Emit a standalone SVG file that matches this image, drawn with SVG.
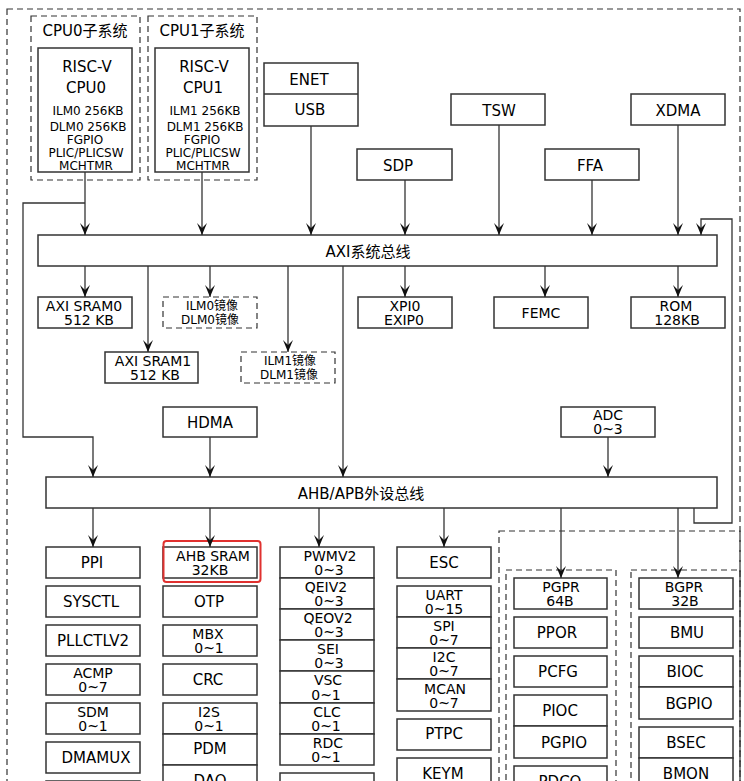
<svg xmlns="http://www.w3.org/2000/svg" width="744" height="781" viewBox="0 0 744 781">
<style>
.b{fill:#fff;stroke:#333;stroke-width:1.5}
.d{fill:none;stroke:#333;stroke-width:1.2;stroke-dasharray:6 4}
.c{fill:none;stroke:#333;stroke-width:1.3}
text{font-family:"DejaVu Sans","Noto Sans CJK SC",sans-serif;fill:#000;text-anchor:middle}
.t{font-size:15px}
.s{font-size:14px}
.x{font-size:12px}
</style>
<defs><marker id="a" markerWidth="12" markerHeight="10" refX="12" refY="5" orient="auto" markerUnits="userSpaceOnUse" viewBox="0 0 12 10"><path d="M0,0 L12,5 L0,10 L5,5 Z" fill="#111"/></marker></defs>
<rect x="0" y="0" width="744" height="781" fill="#fff"/>
<rect class="d" x="7" y="9" width="733" height="790"/>
<rect class="d" x="499" y="531" width="241" height="260"/>
<rect class="d" x="506" y="570" width="110" height="220"/>
<rect class="d" x="631" y="570" width="109" height="220"/>
<g id="cpu0"><rect class="d" x="31" y="16" width="109" height="164"/><text class="t" x="85" y="36">CPU0子系统</text>
<rect class="b" x="38" y="48" width="94" height="124"/><text class="t" x="87" y="72">RISC-V</text><text class="t" x="86" y="93">CPU0</text>
<text class="x" x="88" y="115">ILM0 256KB</text><text class="x" x="88" y="131">DLM0 256KB</text><text class="x" x="85" y="144">FGPIO</text><text class="x" x="86" y="157">PLIC/PLICSW</text><text class="x" x="86" y="170">MCHTMR</text></g>
<g id="cpu1"><rect class="d" x="148" y="16" width="109" height="164"/><text class="t" x="202" y="36">CPU1子系统</text>
<rect class="b" x="155" y="48" width="94" height="124"/><text class="t" x="204" y="72">RISC-V</text><text class="t" x="203" y="93">CPU1</text>
<text class="x" x="205" y="115">ILM1 256KB</text><text class="x" x="205" y="131">DLM1 256KB</text><text class="x" x="202" y="144">FGPIO</text><text class="x" x="203" y="157">PLIC/PLICSW</text><text class="x" x="203" y="170">MCHTMR</text></g>
<g id="enet"><rect class="b" x="264" y="63" width="94" height="63"/><line class="c" x1="264" y1="94" x2="358" y2="94"/><text class="t" x="309" y="85">ENET</text><text class="t" x="310" y="115">USB</text></g>
<g id="sdp"><rect class="b" x="357" y="149" width="95" height="31"/><text class="t" x="398" y="171">SDP</text></g>
<g id="tsw"><rect class="b" x="451" y="94" width="94" height="31"/><text class="t" x="499" y="116">TSW</text></g>
<g id="ffa"><rect class="b" x="545" y="149" width="94" height="31"/><text class="t" x="590" y="171">FFA</text></g>
<g id="xdma"><rect class="b" x="631" y="94" width="94" height="31"/><text class="t" x="678" y="116">XDMA</text></g>
<g id="axi"><rect class="b" x="38" y="235" width="679" height="31"/><text class="t" x="368" y="257">AXI系统总线</text></g>
<g id="sram0"><rect class="b" x="38" y="297" width="94" height="31"/><text class="s" x="84" y="311">AXI SRAM0</text><text class="s" x="89" y="325">512 KB</text></g>
<g id="ilm0"><rect class="d" x="163" y="297" width="94" height="31"/><text class="x" x="212" y="310">ILM0镜像</text><text class="x" x="210" y="324">DLM0镜像</text></g>
<g id="sram1"><rect class="b" x="105" y="352" width="93" height="31"/><text class="s" x="153" y="366">AXI SRAM1</text><text class="s" x="155" y="380">512 KB</text></g>
<g id="ilm1"><rect class="d" x="241" y="352" width="94" height="31"/><text class="x" x="290" y="365">ILM1镜像</text><text class="x" x="289" y="379">DLM1镜像</text></g>
<g id="xpi"><rect class="b" x="358" y="297" width="94" height="31"/><text class="s" x="405" y="311">XPI0</text><text class="s" x="404" y="325">EXIP0</text></g>
<g id="femc"><rect class="b" x="494" y="297" width="94" height="31"/><text class="s" x="541" y="318">FEMC</text></g>
<g id="rom"><rect class="b" x="631" y="297" width="94" height="31"/><text class="s" x="676" y="311">ROM</text><text class="s" x="677" y="325">128KB</text></g>
<g id="hdma"><rect class="b" x="163" y="407" width="94" height="30"/><text class="t" x="210" y="428">HDMA</text></g>
<g id="adc"><rect class="b" x="561" y="407" width="94" height="30"/><text class="s" x="608" y="420">ADC</text><text class="s" x="608" y="434">0~3</text></g>
<g id="ahb"><rect class="b" x="46" y="477" width="671" height="31"/><text class="t" x="361" y="499">AHB/APB外设总线</text></g>
<g id="col1">
<rect class="b" x="46" y="547" width="94" height="31"/><text class="t" x="92" y="568">PPI</text>
<rect class="b" x="46" y="586" width="94" height="31"/><text class="t" x="91" y="607">SYSCTL</text>
<rect class="b" x="46" y="625" width="94" height="31"/><text class="t" x="93" y="646">PLLCTLV2</text>
<rect class="b" x="46" y="664" width="94" height="31"/><text class="s" x="93" y="678">ACMP</text><text class="s" x="93" y="692">0~7</text>
<rect class="b" x="46" y="703" width="94" height="31"/><text class="s" x="93" y="717">SDM</text><text class="s" x="93" y="731">0~1</text>
<rect class="b" x="46" y="742" width="94" height="31"/><text class="t" x="96" y="763">DMAMUX</text>
<rect class="b" x="46" y="781" width="94" height="31"/></g>
<g id="col2">
<rect class="b" x="163" y="547" width="94" height="31"/><text class="s" x="213" y="561">AHB SRAM</text><text class="s" x="210" y="575">32KB</text>
<rect x="163.5" y="541" width="97" height="41" rx="3" fill="none" stroke="#e0312f" stroke-width="2"/>
<rect class="b" x="163" y="586" width="94" height="31"/><text class="t" x="209" y="607">OTP</text>
<rect class="b" x="163" y="625" width="94" height="31"/><text class="s" x="208" y="639">MBX</text><text class="s" x="209" y="653">0~1</text>
<rect class="b" x="163" y="664" width="94" height="31"/><text class="t" x="208" y="685">CRC</text>
<rect class="b" x="163" y="703" width="94" height="31"/><text class="s" x="209" y="717">I2S</text><text class="s" x="209" y="731">0~1</text>
<rect class="b" x="163" y="734" width="94" height="31"/><text class="t" x="210" y="754">PDM</text>
<rect class="b" x="163" y="765" width="94" height="31"/><text class="t" x="210" y="786">DAQ</text></g>
<g id="col3">
<rect class="b" x="280" y="547" width="94" height="31"/><text class="s" x="330" y="561">PWMV2</text><text class="s" x="329" y="575">0~3</text>
<rect class="b" x="280" y="578" width="94" height="31"/><text class="s" x="326" y="592">QEIV2</text><text class="s" x="329" y="606">0~3</text>
<rect class="b" x="280" y="609" width="94" height="31"/><text class="s" x="328" y="623">QEOV2</text><text class="s" x="329" y="637">0~3</text>
<rect class="b" x="280" y="640" width="94" height="31"/><text class="s" x="328" y="654">SEI</text><text class="s" x="329" y="668">0~3</text>
<rect class="b" x="280" y="671" width="94" height="32"/><text class="s" x="328" y="685">VSC</text><text class="s" x="326" y="700">0~1</text>
<rect class="b" x="280" y="703" width="94" height="31"/><text class="s" x="327" y="717">CLC</text><text class="s" x="326" y="731">0~1</text>
<rect class="b" x="280" y="734" width="94" height="31"/><text class="s" x="328" y="748">RDC</text><text class="s" x="326" y="762">0~1</text>
<rect class="b" x="280" y="773" width="94" height="31"/></g>
<g id="col4">
<rect class="b" x="397" y="547" width="94" height="31"/><text class="t" x="444" y="568">ESC</text>
<rect class="b" x="397" y="586" width="94" height="31"/><text class="s" x="444" y="600">UART</text><text class="s" x="444" y="614">0~15</text>
<rect class="b" x="397" y="617" width="94" height="31"/><text class="s" x="444" y="631">SPI</text><text class="s" x="444" y="645">0~7</text>
<rect class="b" x="397" y="648" width="94" height="31"/><text class="s" x="444" y="662">I2C</text><text class="s" x="444" y="676">0~7</text>
<rect class="b" x="397" y="679" width="94" height="32"/><text class="s" x="445" y="694">MCAN</text><text class="s" x="444" y="708">0~7</text>
<rect class="b" x="397" y="719" width="94" height="31"/><text class="t" x="444" y="739">PTPC</text>
<rect class="b" x="397" y="758" width="94" height="31"/><text class="t" x="443" y="779">KEYM</text></g>
<g id="col5">
<rect class="b" x="514" y="578" width="93" height="31"/><text class="s" x="561" y="592">PGPR</text><text class="s" x="560" y="606">64B</text>
<rect class="b" x="514" y="617" width="93" height="31"/><text class="t" x="557" y="638">PPOR</text>
<rect class="b" x="514" y="656" width="93" height="31"/><text class="t" x="558" y="677">PCFG</text>
<rect class="b" x="514" y="695" width="93" height="31"/><text class="t" x="560" y="716">PIOC</text>
<rect class="b" x="514" y="726" width="93" height="32"/><text class="t" x="564" y="748">PGPIO</text>
<rect class="b" x="514" y="766" width="93" height="31"/><text class="t" x="560" y="787">PDCO</text></g>
<g id="col6">
<rect class="b" x="639" y="578" width="94" height="31"/><text class="s" x="684" y="592">BGPR</text><text class="s" x="685" y="606">32B</text>
<rect class="b" x="639" y="617" width="94" height="31"/><text class="t" x="687" y="638">BMU</text>
<rect class="b" x="639" y="656" width="94" height="31"/><text class="t" x="685" y="677">BIOC</text>
<rect class="b" x="639" y="687" width="94" height="32"/><text class="t" x="689" y="709">BGPIO</text>
<rect class="b" x="639" y="727" width="94" height="31"/><text class="t" x="686" y="748">BSEC</text>
<rect class="b" x="639" y="758" width="94" height="31"/><text class="t" x="686" y="779">BMON</text></g>
<g id="connectors" class="c" marker-end="url(#a)">
<path d="M85,172V235"/><path d="M202,172V235"/><path d="M311,126V235"/><path d="M405,180V235"/><path d="M499,125V235"/><path d="M592,180V235"/><path d="M678,125V235"/>
<path d="M694,508V523H732V219H701V235"/>
<path d="M85,203H23V437H93V477"/>
<path d="M85,266V297"/><path d="M148,266V352"/><path d="M210,266V297"/><path d="M288,266V352"/><path d="M343,266V477"/>
<path d="M405,266V297"/><path d="M545,266V297"/><path d="M678,266V297"/>
<path d="M210,437V477"/><path d="M608,437V477"/>
<path d="M93,508V547"/><path d="M210,508V547"/><path d="M319,508V547"/><path d="M444,508V547"/><path d="M561,508V578"/><path d="M678,508V578"/>
</g>
</svg>
